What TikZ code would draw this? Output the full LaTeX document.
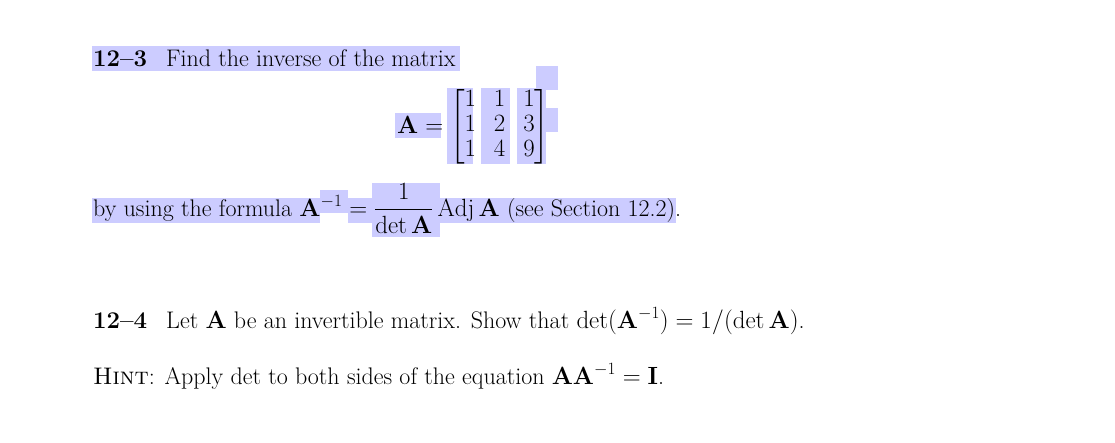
\documentclass[tikz,border=0pt]{standalone}
\usepackage{amsmath}
\definecolor{hl}{HTML}{CCCCFF}
\begin{document}
\begin{tikzpicture}[x=1pt,y=-1pt,every node/.style={inner sep=0pt,anchor=base west,font=\fontsize{24}{29}\selectfont}]
\useasboundingbox (0,0) rectangle (1115,442);
% highlights
\fill[hl] (92,46) rectangle (460,71);
\fill[hl] (395,113) rectangle (441,138);
\fill[hl] (447,88) rectangle (473,164);
\fill[hl] (481,88) rectangle (510,164);
\fill[hl] (517,88) rectangle (546,164);
\fill[hl] (536,66) rectangle (558,90);
\fill[hl] (536,108) rectangle (558,132);
\fill[hl] (92,198) rectangle (320,223);
\fill[hl] (320,190) rectangle (348,213);
\fill[hl] (348,198) rectangle (372,223);
\fill[hl] (372,183) rectangle (440,237);
\fill[hl] (440,198) rectangle (676,223);
% texts
\node (n1) at (93,66) {\textbf{12--3}};
\node (t1) at (166,66) {Find the inverse of the matrix};
\node (m) at (397,133) {$\mathbf{A}=\setlength{\arraycolsep}{9pt}\renewcommand{\arraystretch}{0.86}\begin{bmatrix}1&1&1\\1&2&3\\1&4&9\end{bmatrix}$};
\node (t2) at (93,216) {by using the formula $\mathbf{A}^{-1}=\dfrac{1}{\det\mathbf{A}}\operatorname{Adj}\mathbf{A}$ (see Section 12.2).};
\node (n2) at (93,328) {\textbf{12--4}};
\node (t3) at (166,328) {Let $\mathbf{A}$ be an invertible matrix. Show that $\det(\mathbf{A}^{-1})=1/(\det\mathbf{A})$.};
\node (t4) at (93,384) {\textsc{Hint}: Apply det to both sides of the equation $\mathbf{A}\mathbf{A}^{-1}=\mathbf{I}$.};
\end{tikzpicture}
\end{document}
